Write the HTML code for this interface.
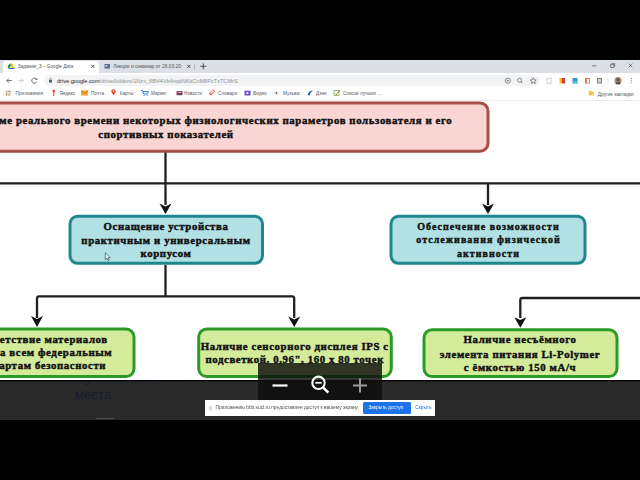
<!DOCTYPE html>
<html><head><meta charset="utf-8">
<style>
html,body{margin:0;padding:0;}
body{width:640px;height:480px;overflow:hidden;background:#000;position:relative;font-family:"Liberation Sans",sans-serif;}
.a{position:absolute;}
#tabs{left:0;top:60px;width:640px;height:13px;background:#dcdfe6;}
#tab1{left:3px;top:60.5px;width:96px;height:12.5px;background:#fff;border-radius:3px 3px 0 0;}
#toolbar{left:0;top:73px;width:640px;height:13px;background:#fff;}
#omni{left:44px;top:74.5px;width:496px;height:11px;background:#f1f3f4;border-radius:6px;}
#bm{left:0;top:86px;width:640px;height:14px;background:#fff;border-bottom:1px solid #ececec;}
#content{left:0;top:101px;width:640px;height:279px;background:#fff;}
#band{left:0;top:380.5px;width:640px;height:39.5px;background:#2a2a2a;border-top:0.8px solid #1c1c1c;box-sizing:border-box;}
.t{position:absolute;white-space:nowrap;font-size:6px;color:#3c4043;line-height:8px;}
svg{position:absolute;left:0;top:0;}
#root{position:absolute;left:0;top:0;width:640px;height:480px;filter:blur(0.45px);}
.dt{font-family:"Liberation Serif",serif;font-weight:bold;font-size:10.8px;letter-spacing:0.6px;fill:#111;stroke:#111;stroke-width:0.45px;}
</style></head>
<body>
<div id="root">
<div id="tabs" class="a"></div>
<div id="tab1" class="a"></div>
<div id="toolbar" class="a"></div>
<div id="omni" class="a"></div>
<div id="bm" class="a"></div>
<div id="content" class="a"></div>

<!-- tab icons & texts -->
<svg class="a" style="left:0;top:60px" width="640" height="40" viewBox="0 60 640 40">
  <!-- drive icon -->
  <path d="M9.5 63.5 L12 63.5 L14.5 68 L12 68 Z" fill="#fbbc04"/>
  <path d="M9.5 63.5 L7.5 67 L8.8 69 L11 65.3 Z" fill="#1e8e3e"/>
  <path d="M8.8 69 L14.5 69 L14.5 68 L12 68 L9.6 68 Z" fill="#1a73e8"/>
  <!-- close tab1 -->
  <path d="M91.3 64.8 L94.3 67.8 M94.3 64.8 L91.3 67.8" stroke="#444" stroke-width="0.9"/>
  <!-- tab2 icon -->
  <rect x="104.5" y="64" width="5.5" height="4.5" fill="#5f6d8f"/>
  <rect x="105.3" y="65" width="2" height="1.6" fill="#c9d3e8"/>
  <!-- close tab2 -->
  <path d="M187.3 64.8 L190.3 67.8 M190.3 64.8 L187.3 67.8" stroke="#444" stroke-width="0.9"/>
  <line x1="194.5" y1="63.5" x2="194.5" y2="69.5" stroke="#a8abb0" stroke-width="0.7"/>
  <path d="M200.3 66.3 H206.3 M203.3 63.3 V69.3" stroke="#444" stroke-width="0.9"/>
  <!-- window controls -->
  <line x1="592" y1="65.8" x2="596.5" y2="65.8" stroke="#444" stroke-width="0.6"/>
  <rect x="610.8" y="64.2" width="3.2" height="3.2" fill="none" stroke="#444" stroke-width="0.65"/>
  <path d="M611.6 63.5 H614.7 V66.6" fill="none" stroke="#444" stroke-width="0.5"/>
  <path d="M628.6 63.6 L632.4 67.4 M632.4 63.6 L628.6 67.4" stroke="#444" stroke-width="0.65"/>
  <!-- nav -->
  <path d="M6.8 80.6 H11.8 M6.8 80.6 L9 78.4 M6.8 80.6 L9 82.8" fill="none" stroke="#5f6368" stroke-width="0.9"/>
  <path d="M23.3 80.6 H18.3 M23.3 80.6 L21.1 78.4 M23.3 80.6 L21.1 82.8" fill="none" stroke="#c4c7c9" stroke-width="0.9"/>
  <path d="M36.6 79.4 A2.6 2.6 0 1 0 36.8 81.6" fill="none" stroke="#5f6368" stroke-width="0.9"/>
  <path d="M37.3 77.8 V79.9 H35.2 Z" fill="#5f6368"/>
  <!-- lock -->
  <rect x="49" y="80" width="3" height="2.6" fill="#5f6368"/>
  <path d="M49.7 80 V79.2 A0.8 0.8 0 0 1 51.3 79.2 V80" fill="none" stroke="#5f6368" stroke-width="0.6"/>
  <!-- omnibox right icons -->
  <circle cx="507.8" cy="80.7" r="2.6" fill="none" stroke="#6a6d70" stroke-width="0.8"/>
  <circle cx="507.8" cy="80.7" r="0.9" fill="#6a6d70"/>
  <circle cx="519.6" cy="80.3" r="2" fill="none" stroke="#6a6d70" stroke-width="0.8"/>
  <line x1="521" y1="81.7" x2="522.6" y2="83.3" stroke="#6a6d70" stroke-width="0.9"/>
  <path d="M533.3 77.6 L534.2 79.8 L536.4 80 L534.7 81.4 L535.3 83.6 L533.3 82.4 L531.3 83.6 L531.9 81.4 L530.2 80 L532.4 79.8 Z" fill="none" stroke="#5f6368" stroke-width="0.7"/>
  <!-- extensions -->
  <rect x="547" y="78.3" width="4" height="5" fill="none" stroke="#b9bcc0" stroke-width="0.7"/>
  <rect x="559.5" y="78" width="2.5" height="5.5" fill="#f4c20d"/>
  <rect x="562" y="78" width="3" height="5.5" fill="#d9352a"/>
  <rect x="572.5" y="78" width="5" height="5.5" fill="#3b8fd6"/>
  <rect x="573.5" y="81" width="4" height="2.5" fill="#6cc3c8"/>
  <rect x="585" y="78" width="5" height="5.5" fill="#e0732e"/>
  <rect x="586.8" y="79" width="2.4" height="3.8" fill="#fff"/>
  <rect x="597" y="78" width="5" height="5.5" fill="#8b7f73"/>
  <rect x="598" y="79" width="3" height="3.5" fill="#d8d2c8"/>
  <line x1="608" y1="77.5" x2="608" y2="84" stroke="#dadce0" stroke-width="0.6"/>
  <!-- avatar -->
  <circle cx="618" cy="80.7" r="3.6" fill="#a89382"/>
  <circle cx="618" cy="79.8" r="1.8" fill="#6b5546"/>
  <rect x="615.8" y="82.3" width="4.4" height="2" fill="#4b4b4b"/>
  <!-- menu -->
  <circle cx="631.3" cy="78.6" r="0.55" fill="#5f6368"/>
  <circle cx="631.3" cy="80.7" r="0.55" fill="#5f6368"/>
  <circle cx="631.3" cy="82.8" r="0.55" fill="#5f6368"/>
  <!-- bookmarks icons -->
  <g fill="#5f6368">
    <rect x="5.8" y="90.8" width="1.1" height="1.1" fill="#e8710a"/><rect x="7.6" y="90.8" width="1.1" height="1.1" fill="#1a73e8"/><rect x="9.4" y="90.8" width="1.1" height="1.1" fill="#d93025"/>
    <rect x="5.8" y="92.6" width="1.1" height="1.1" fill="#1e8e3e"/><rect x="7.6" y="92.6" width="1.1" height="1.1" fill="#f9ab00"/><rect x="9.4" y="92.6" width="1.1" height="1.1" fill="#1a73e8"/>
    <rect x="5.8" y="94.4" width="1.1" height="1.1" fill="#d93025"/><rect x="7.6" y="94.4" width="1.1" height="1.1" fill="#1e8e3e"/><rect x="9.4" y="94.4" width="1.1" height="1.1" fill="#e8710a"/>
  </g>
  <path d="M52.3 90 Q53.8 89.3 55.3 90 L54.3 93 V96 H53.3 V93 Z" fill="#ea4335"/>
  <rect x="81" y="90.5" width="7" height="5" fill="#f6a623"/>
  <path d="M81 90.5 L84.5 93.3 L88 90.5" fill="none" stroke="#d8571f" stroke-width="0.8"/>
  <path d="M113.5 95.5 L111.4 92 A2.2 2.2 0 1 1 115.6 92 Z" fill="#ea4335"/>
  <circle cx="113.5" cy="91.1" r="0.8" fill="#fff"/>
  <path d="M141 90.5 H142.5 L143.5 94 H147.5 L148.3 91.5 H143" fill="none" stroke="#1a73e8" stroke-width="0.9"/>
  <circle cx="144" cy="95.5" r="0.6" fill="#1a73e8"/><circle cx="147" cy="95.5" r="0.6" fill="#1a73e8"/>
  <rect x="176.5" y="91" width="6" height="4.2" rx="0.5" fill="#7b3b5a"/>
  <rect x="177.5" y="91.8" width="4" height="1" fill="#e6b8cc"/>
  <path d="M210 94.8 L212.5 92.3 M211.8 90.6 A1.3 1.3 0 1 1 213.6 92.4 L212.6 93.4 M211.2 91.4 L210.2 92.4 A1.3 1.3 0 1 0 212 94.2" fill="none" stroke="#d93025" stroke-width="0.9"/>
  <rect x="244.5" y="90.7" width="6" height="4.8" rx="0.6" fill="#6a4fc4"/>
  <path d="M246.5 91.8 L249 93.1 L246.5 94.4 Z" fill="#fff"/>
  <circle cx="276.5" cy="93.1" r="2.4" fill="#f1f3f4" stroke="#ccc" stroke-width="0.3"/>
  <path d="M275.8 92 L277.5 93.1 L275.8 94.2 Z" fill="#202124"/>
  <path d="M307.5 95 Q308.5 90.8 313 90.6 Q310 92 309.5 95.5 Z" fill="#1f5fa8"/>
  <rect x="334" y="90.5" width="5" height="5" fill="#fff" stroke="#7b9b45" stroke-width="0.7"/>
  <path d="M335 93.5 L336.3 94.8 L339.5 90.5" fill="none" stroke="#5a8f26" stroke-width="0.9"/>
  <path d="M588.8 90.8 H591 L591.7 91.6 H593.7 V95.6 H588.8 Z" fill="#f6c343"/>
</svg>
<div class="t" style="left:17.8px;top:64px;font-size:4.7px;line-height:5px;color:#505357;">Задание_3 – Google Диск</div>
<div class="t" style="left:113.2px;top:64px;font-size:4.9px;line-height:5px;color:#505357;">Лекции и семинар от 26.03.20</div>
<div class="t" style="left:57px;top:78.4px;font-size:5.6px;line-height:6px;color:#202124;">drive.google.com<span style="color:#8d9296">/drive/folders/1Nzx_6BV4Vb4nqkNKkCnM8PcTxTCMrS</span></div>

<!-- bookmarks -->
<div class="t" style="left:15.6px;top:91.4px;font-size:4.7px;line-height:5px;color:#55585c;">Приложения</div>
<div class="t" style="left:59.4px;top:91.4px;font-size:4.7px;line-height:5px;color:#55585c;">Яндекс</div>
<div class="t" style="left:91px;top:91.4px;font-size:4.7px;line-height:5px;color:#55585c;">Почта</div>
<div class="t" style="left:120px;top:91.4px;font-size:4.7px;line-height:5px;color:#55585c;">Карты</div>
<div class="t" style="left:151px;top:91.4px;font-size:4.7px;line-height:5px;color:#55585c;">Маркет</div>
<div class="t" style="left:184px;top:91.4px;font-size:4.7px;line-height:5px;color:#55585c;">Новости</div>
<div class="t" style="left:218px;top:91.4px;font-size:4.7px;line-height:5px;color:#55585c;">Словари</div>
<div class="t" style="left:253px;top:91.4px;font-size:4.7px;line-height:5px;color:#55585c;">Видео</div>
<div class="t" style="left:283px;top:91.4px;font-size:4.7px;line-height:5px;color:#55585c;">Музыка</div>
<div class="t" style="left:316px;top:91.4px;font-size:4.7px;line-height:5px;color:#55585c;">Дзен</div>
<div class="t" style="left:343px;top:91.4px;font-size:4.7px;line-height:5px;color:#55585c;">Список лучших ...</div>
<div class="t" style="left:597.8px;top:92px;font-size:4.7px;line-height:5px;color:#55585c;">Другие закладки</div>

<svg width="640" height="480" viewBox="0 0 640 480">
  <!-- connectors -->
  <g stroke="#202020" stroke-width="2.3" fill="none">
    <line x1="165.5" y1="152" x2="165.5" y2="205"/>
    <line x1="0" y1="183.3" x2="640" y2="183.3"/>
    <line x1="488" y1="183" x2="488" y2="205"/>
    <line x1="165.5" y1="265" x2="165.5" y2="296"/>
    <path d="M37 318 V298.5 Q37 296.3 39.2 296.3 H292 Q294.2 296.3 294.2 298.5 V318"/>
    <path d="M520.3 318 V300.3 Q520.3 298 522.6 298 H640"/>
  </g>
  <g fill="#111">
    <path d="M159.5 203.5 L165.5 214 L171.5 203.5 L165.5 206.5 Z"/>
    <path d="M482 203.5 L488 214 L494 203.5 L488 206.5 Z"/>
    <path d="M31 316 L37 327 L43 316 L37 319 Z"/>
    <path d="M288.2 316.5 L294.2 327 L300.2 316.5 L294.2 319.5 Z"/>
    <path d="M514.3 317.3 L520.3 327.8 L526.3 317.3 L520.3 320 Z"/>
  </g>
  <!-- boxes -->
  <rect x="-157" y="103" width="645" height="48.2" rx="8" fill="#f9d6d3" stroke="#a84e48" stroke-width="3"/>
  <rect x="70" y="216.3" width="192.5" height="47" rx="7.5" fill="#b1e1e4" stroke="#1f878b" stroke-width="3"/>
  <rect x="391" y="216.3" width="194" height="47" rx="7.5" fill="#b1e1e4" stroke="#1f878b" stroke-width="3"/>
  <rect x="-58.5" y="329" width="192.5" height="47.6" rx="8" fill="#d4eb9c" stroke="#2b9b27" stroke-width="3"/>
  <rect x="198.7" y="329" width="192.6" height="47.6" rx="8" fill="#d4eb9c" stroke="#2b9b27" stroke-width="3"/>
  <rect x="424" y="329.8" width="193" height="46.8" rx="8" fill="#d4eb9c" stroke="#2b9b27" stroke-width="3"/>

  <g class="dt" text-anchor="middle">
    <text x="166" y="124.0">Отслеживание в режиме реального времени некоторых физиологических параметров пользователя и его</text>
    <text x="166" y="138.0">спортивных показателей</text>
    <text x="166" y="230.0">Оснащение устройства</text>
    <text x="166" y="243.8">практичным и универсальным</text>
    <text x="166" y="257.3">корпусом</text>
    <text style="font-size:10px;letter-spacing:1.03px;stroke-width:0.4px" x="488.5" y="229.8">Обеспечение возможности</text>
    <text style="font-size:10px;letter-spacing:1.03px;stroke-width:0.4px" x="488.5" y="243.4">отслеживания физической</text>
    <text style="font-size:10px;letter-spacing:1.03px;stroke-width:0.4px" x="488.5" y="257">активности</text>
    <text x="37.5" y="342.5">Соответствие материалов</text>
    <text x="37.5" y="355.7">корпуса всем федеральным</text>
    <text x="37.5" y="369.0">стандартам безопасности</text>
    <text x="294.7" y="350.0">Наличие сенсорного дисплея IPS с</text>
    <text x="294.7" y="363.0">подсветкой, 0,96", 160 x 80 точек</text>
    <text x="520" y="343.0">Наличие несъёмного</text>
    <text x="520" y="358.0">элемента питания Li-Polymer</text>
    <text x="520" y="371.3">с ёмкостью 150 мА/ч</text>
  </g>
  <path d="M105.3 252.8 L105.3 259.6 L106.9 258.2 L108 260.6 L109.1 260.1 L108 257.7 L110.2 257.6 Z" fill="#f4ffff" stroke="#2e4f52" stroke-width="0.7"/>
</svg>

<div id="band" class="a"></div>
<div class="a" style="left:0;top:380.8px;width:640px;height:39.2px;overflow:hidden;">
  <div class="t" style="left:77.8px;top:-10.8px;font-size:13.3px;line-height:16px;color:#1b1e2e;-webkit-text-stroke:0.3px #1b1e2e;">лучите больше</div>
  <div class="t" style="left:75px;top:6.5px;font-size:13.3px;line-height:16px;color:#1b1e2e;-webkit-text-stroke:0.3px #1b1e2e;">места</div>
  <div class="a" style="left:96px;top:37.7px;width:18px;height:1px;background:#4c4c4c;border-radius:1px;"></div>
</div>

<!-- zoom control -->
<div class="a" style="left:258px;top:363px;width:124px;height:36.5px;background:rgba(12,12,12,0.82);"></div>
<svg class="a" style="left:258px;top:363px" width="124" height="37" viewBox="258 363 124 37">
  <line x1="272.5" y1="385.5" x2="287.5" y2="385.5" stroke="#fff" stroke-width="2.2"/>
  <circle cx="318.5" cy="382.8" r="6.2" fill="none" stroke="#fff" stroke-width="2.1"/>
  <line x1="315.3" y1="382.8" x2="321.7" y2="382.8" stroke="#fff" stroke-width="1.7"/>
  <line x1="323" y1="387.4" x2="328.3" y2="392.7" stroke="#fff" stroke-width="2.5"/>
  <line x1="353" y1="385.5" x2="367" y2="385.5" stroke="#9a9a9a" stroke-width="2"/>
  <line x1="360" y1="378.5" x2="360" y2="392.5" stroke="#9a9a9a" stroke-width="2"/>
</svg>

<!-- notification -->
<div class="a" style="left:205px;top:399.5px;width:230px;height:16.5px;background:#fff;"></div>
<svg class="a" style="left:205px;top:399.5px" width="20" height="17" viewBox="205 399.5 20 17">
  <line x1="209.8" y1="405.5" x2="209.8" y2="410" stroke="#c0c0c0" stroke-width="0.7"/>
  <line x1="211.2" y1="405.5" x2="211.2" y2="410" stroke="#c0c0c0" stroke-width="0.7"/>
</svg>
<div class="t" style="left:215.5px;top:405px;font-size:4.85px;line-height:5px;color:#4a4d52;">Приложению bbb.sucl.ru предоставлен доступ к вашему экрану.</div>
<div class="a" style="left:363px;top:401.6px;width:48.3px;height:12.4px;background:#1a73e8;border-radius:1.5px;"></div>
<div class="t" style="left:368.5px;top:405px;font-size:4.75px;line-height:5px;color:#fff;">Закрыть доступ</div>
<div class="t" style="left:415.3px;top:405px;font-size:4.75px;line-height:5px;color:#1a73e8;">Скрыть</div>
</div>
</body></html>
